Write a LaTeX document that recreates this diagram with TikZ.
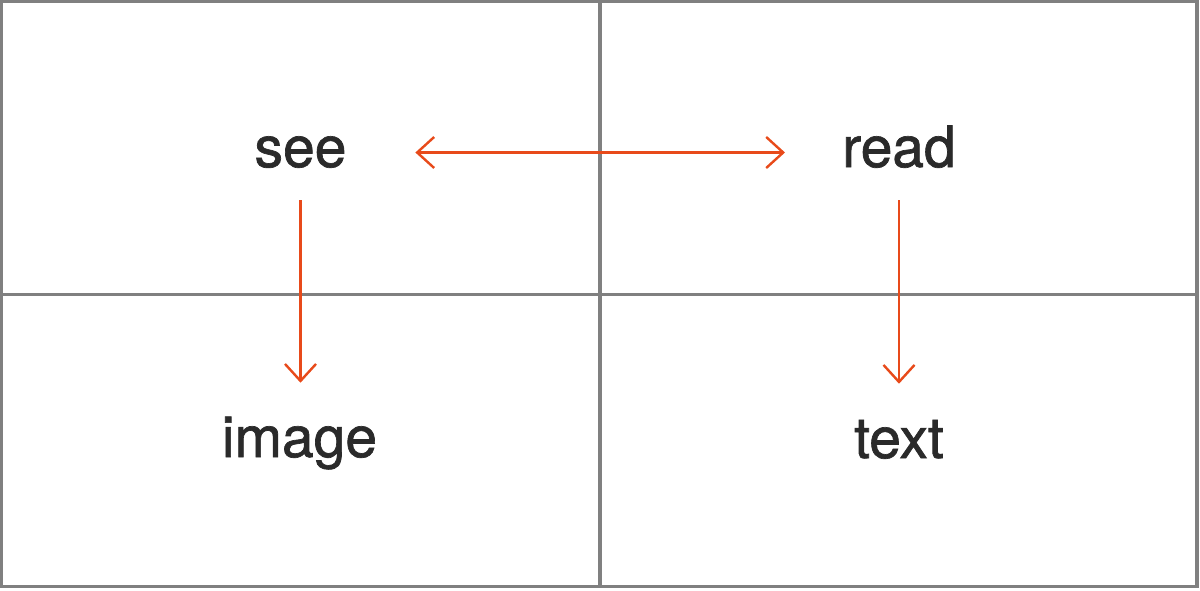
\documentclass[tikz,border=0pt]{standalone}
\usepackage{fontspec}
\setmainfont{TeX Gyre Heros}
\newfontfamily\wordfont{TeX Gyre Heros}[FakeBold=1.2]
\usetikzlibrary{arrows.meta}
\definecolor{gridgray}{RGB}{128,128,128}
\definecolor{arrowred}{RGB}{232,74,26}
\definecolor{txt}{RGB}{42,42,42}
\begin{document}
\begin{tikzpicture}[x=0.75pt,y=-0.75pt,
  word/.style={font=\wordfont\fontsize{42.75}{50}\selectfont, text=txt, inner sep=0pt,
    text height=30.75pt, text depth=0pt, anchor=base},
  gridline/.style={draw=gridgray, line width=2.6pt},
  barb/.tip={Straight Barb[length=12.75pt,width=23.25pt,line width=1.8pt]},
  link/.style={draw=arrowred, line width=1.7pt, -barb},
  dlink/.style={draw=arrowred, line width=1.7pt, barb-barb},
]
\useasboundingbox (0,0) rectangle (1200,590);
\fill[white] (0,0) rectangle (1200,590);
% grid
\draw[gridline] (1.5,1.5) rectangle (1197,586.5);
\draw[gridline] (600,1.5) -- (600,586.5);
\draw[gridline] (1.5,294.5) -- (1197,294.5);
% words
\node[word] (see) at (300.5,167) {see};
\node[word] (read) at (899,167) {read};
\node[word] (image) at (299.5,457) {image};
\node[word] (text) at (899,458) {text};
% connectors
\draw[dlink, shorten <=51.5pt, shorten >=42.75pt]
  ([yshift=-4.5pt]see.east) -- ([yshift=-4.5pt]read.west);
\draw[link, shorten <=24.75pt, shorten >=24.75pt]
  (see.south) -- (see.south |- image.north);
\draw[link, shorten <=24.75pt, shorten >=24.75pt]
  (read.south) -- (read.south |- text.north);
\end{tikzpicture}
\end{document}
